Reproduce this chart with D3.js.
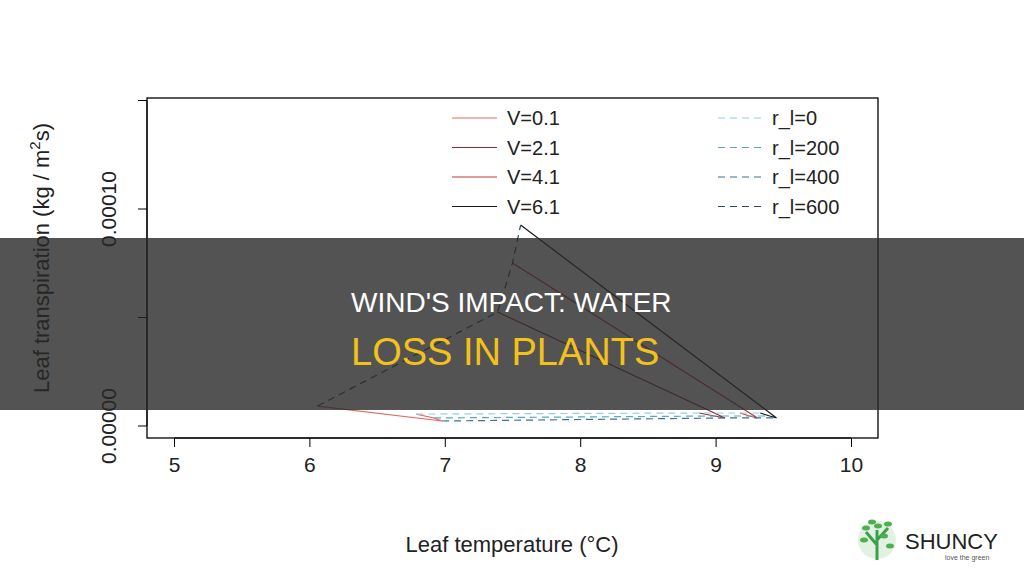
<!DOCTYPE html>
<html>
<head>
<meta charset="utf-8">
<script src="https://cdn.jsdelivr.net/npm/d3@7"></script>
<style>
  body { margin: 0; background: #fff; }
  text { font-family: "Liberation Sans", Arial, sans-serif; }
</style>
</head>
<body>
<div class="chart"></div>
<script>
// values
const vLabels = ["V=0.1", "V=2.1", "V=4.1", "V=6.1"];
const vColors = ["#e46a62", "#8e2f2f", "#c23b3b", "#1a1a1a"];
const rLabels = ["r_l=0", "r_l=200", "r_l=400", "r_l=600"];
const rColors = ["#8fd0df", "#5aa8c0", "#3f7090", "#2f4b5a"];

// leaf temperature per [r_l][V]
const temps = [
  [6.79, 8.88, 9.18, 9.33],
  [6.92, 8.99, 9.25, 9.40],
  [6.98, 9.07, 9.31, 9.45],
  [6.06, 7.39, 7.50, 7.56]
];
// transpiration per [r_l][V]
const trans = [
  [5.5e-6, 6.0e-6, 6.0e-6, 6.0e-6],
  [3.7e-6, 4.6e-6, 4.6e-6, 4.6e-6],
  [2.3e-6, 3.7e-6, 3.7e-6, 3.7e-6],
  [9.2e-6, 5.25e-5, 7.51e-5, 9.26e-5]
];
const xTicks = [5, 6, 7, 8, 9, 10];
const yTicks = [0, 0.00005, 0.0001, 0.00015];
const yTickLabels = ["0.00000", "", "0.00010", ""];

const W = 1024, H = 585;
const svg = d3.select(".chart").append("svg")
    .attr("width", W).attr("height", H);

const x = d3.scaleLinear().domain([5, 10]).range([174, 851]);
const y = d3.scaleLinear().domain([0, 0.0001]).range([426, 209]);

// plot box
svg.append("rect")
    .attr("x", 147).attr("y", 98).attr("width", 731).attr("height", 340)
    .attr("fill", "none").attr("stroke", "#000").attr("stroke-width", 1.3);

const xAxis = svg.append("g").attr("transform", "translate(0,438)")
    .call(d3.axisBottom(x).tickValues(xTicks).tickSize(9).tickPadding(10).tickFormat(d3.format("d")));
xAxis.select(".domain").attr("d", `M${x(5)},0H${x(10)}`);
xAxis.selectAll("text").style("font-size", "21px").attr("fill", "#222");

const yAxis = svg.append("g").attr("transform", "translate(147,0)")
    .call(d3.axisLeft(y).tickValues(yTicks).tickSize(9).tickFormat((d, i) => yTickLabels[i]));
yAxis.select(".domain").attr("d", `M0,${y(0)}V${y(0.00015)}`);
yAxis.selectAll("text")
    .style("font-size", "21px").attr("fill", "#222")
    .attr("text-anchor", "middle")
    .attr("transform", d => `translate(-38,${y(d)}) rotate(-90)`)
    .attr("x", 0).attr("y", 0).attr("dy", "0.35em");
yAxis.selectAll(".tick").attr("transform", null);
yAxis.selectAll(".tick line").attr("transform", d => `translate(0,${y(d)})`);

svg.append("text").attr("x", 512).attr("y", 552).attr("text-anchor", "middle")
    .style("font-size", "22px").attr("fill", "#222").text("Leaf temperature (°C)");
const yl = svg.append("text").attr("transform", "translate(49,258) rotate(-90)")
    .attr("text-anchor", "middle").style("font-size", "22px").attr("fill", "#222");
yl.append("tspan").text("Leaf transpiration (kg / m");
yl.append("tspan").attr("dy", -9).style("font-size", "15px").text("2");
yl.append("tspan").attr("dy", 9).text("s)");

const line = d3.line().x(d => x(d[0])).y(d => y(d[1]));

// solid lines: one per V, from r_l=600 to the lower r_l ends
vLabels.forEach((v, j) => {
  const pts = [3, 2, 1, 0].map(i => [temps[i][j], trans[i][j]]);
  svg.append("path").attr("d", line(pts))
      .attr("fill", "none").attr("stroke", vColors[j]).attr("stroke-width", 1.2);
});
// dashed lines: one per r_l, across V
rLabels.forEach((r, i) => {
  const pts = temps[i].map((t, j) => [t, trans[i][j]]);
  svg.append("path").attr("d", line(pts))
      .attr("fill", "none").attr("stroke", rColors[i]).attr("stroke-width", 1.2)
      .attr("stroke-dasharray", "7,5");
});

// legend
const lg = svg.append("g");
vLabels.forEach((v, k) => {
  const yy = 118 + k * 29.5;
  lg.append("line").attr("x1", 452).attr("x2", 497).attr("y1", yy).attr("y2", yy)
      .attr("stroke", vColors[k]).attr("stroke-width", 1.2);
  lg.append("text").attr("x", 507).attr("y", yy).attr("dy", "0.35em")
      .style("font-size", "20px").attr("fill", "#222").text(v);
});
rLabels.forEach((r, k) => {
  const yy = 118 + k * 29.5;
  lg.append("line").attr("x1", 718).attr("x2", 762).attr("y1", yy).attr("y2", yy)
      .attr("stroke", rColors[k]).attr("stroke-width", 1.2).attr("stroke-dasharray", "7,5");
  lg.append("text").attr("x", 772).attr("y", yy).attr("dy", "0.35em")
      .style("font-size", "20px").attr("fill", "#222").text(r);
});

// title banner
svg.append("rect").attr("x", 0).attr("y", 238).attr("width", W).attr("height", 172)
    .attr("fill", "rgba(40,40,40,0.8)");
svg.append("text").attr("x", 351).attr("y", 312).style("font-size", "28px")
    .attr("fill", "#fff").text("WIND'S IMPACT: WATER");
svg.append("text").attr("x", 351).attr("y", 365).style("font-size", "38px")
    .attr("fill", "#f2c21b").text("LOSS IN PLANTS");

// logo
const logo = svg.append("g");
logo.append("circle").attr("cx", 877).attr("cy", 540).attr("r", 19).attr("fill", "#e3f1e3");
logo.append("path").attr("d", "M877,560 L877,530 M877,545 L866,532 M877,540 L888,528")
    .attr("stroke", "#3aa14a").attr("stroke-width", 3).attr("fill", "none");
[[866, 528], [888, 524], [872, 522], [884, 536], [864, 540], [890, 546], [878, 526]].forEach(p =>
  logo.append("ellipse").attr("cx", p[0]).attr("cy", p[1]).attr("rx", 4).attr("ry", 2.5).attr("fill", "#4caf50"));
logo.append("text").attr("x", 905).attr("y", 549).style("font-size", "22px").attr("fill", "#222").text("SHUNCY");
logo.append("text").attr("x", 945).attr("y", 560).style("font-size", "7px").attr("fill", "#555").text("love the green");
</script>
</body>
</html>
